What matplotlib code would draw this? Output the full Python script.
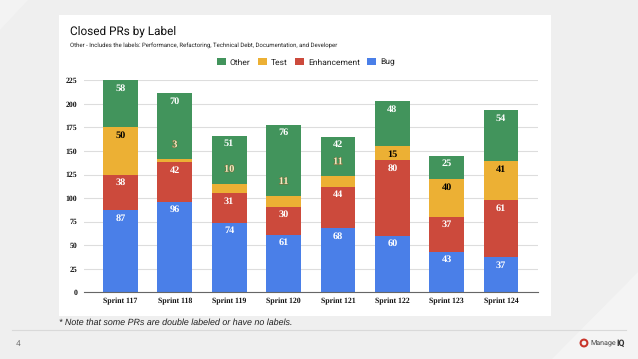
import matplotlib
matplotlib.use('Agg')
import matplotlib.pyplot as plt
import matplotlib.patheffects as pe
import numpy as np
from matplotlib.patches import Rectangle, Polygon, Circle

plt.rcParams['text.hinting'] = 'none'

W = 638
H = 359

sprints = ['Sprint 117', 'Sprint 118', 'Sprint 119', 'Sprint 120',
           'Sprint 121', 'Sprint 122', 'Sprint 123', 'Sprint 124']
bug = [87, 96, 74, 61, 68, 60, 43, 37]
enhancement = [38, 42, 31, 30, 44, 80, 37, 61]
test = [50, 3, 10, 11, 11, 15, 40, 41]
other = [58, 70, 51, 76, 42, 48, 25, 54]
yticks = [0, 25, 50, 75, 100, 125, 150, 175, 200, 225]

series = [('Bug', bug, '#4a7fe8', 'white'),
          ('Enhancement', enhancement, '#cc4a3c', 'white'),
          ('Test', test, '#ecb034', 'black'),
          ('Other', other, '#42945c', 'white')]

fig = plt.figure(figsize=(W / 100, H / 100), dpi=100, facecolor='#efefef')

# slide background, in pixel coordinates
bg = fig.add_axes([0, 0, 1, 1])
bg.set_xlim(0, W)
bg.set_ylim(H, 0)
bg.axis('off')
bg.add_patch(Polygon([[638, 272], [638, 359], [552, 359]], color='#f4f4f4', lw=0))
bg.add_patch(Polygon([[0, 0], [28, 0], [0, 30]], color='#f3f3f3', lw=0))
bg.add_patch(Rectangle((59, 15), 492, 301, color='white', lw=0))
bg.plot([12, 626], [329.5, 329.5], color='#d9d9d9', lw=0.8)
bg.text(69.5, 31, 'Closed PRs by Label', family='Roboto', fontsize=8.45,
        color='#111111', va='center')
bg.text(69.5, 44.7, 'Other - Includes the labels: Performance, Refactoring, Technical Debt, '
        'Documentation, and Developer', family='Roboto', fontsize=4.3,
        color='#222222', va='center')
bg.text(59, 322.2, '* Note that some PRs are double labeled or have no labels.',
        family='Liberation Sans', style='italic', fontsize=6.4, color='#222222', va='center')
bg.text(16, 343.5, '4', family='Roboto', fontsize=6, color='#777777', va='center')
bg.add_patch(Circle((584, 343), 3.4, fc='none', ec='#c8352b', lw=1.5))
bg.text(590.5, 345.5, 'Manage', family='Roboto', fontsize=5.1, color='#444444', va='baseline')
bg.text(616.5, 345.5, 'IQ', family='Roboto', fontsize=6.2, weight='bold', color='#333333', va='baseline')

# chart area
x0, x1, ytop, ybot = 83.5, 538, 80.3, 292.3
ax = fig.add_axes([x0 / W, 1 - ybot / H, (x1 - x0) / W, (ybot - ytop) / H])
ax.patch.set_alpha(0)
x = np.arange(len(sprints))
bottom = np.zeros(len(sprints))
for name, values, colour, textcol in series:
    ax.bar(x, values, 0.64, bottom=bottom, color=colour, label=name, zorder=3)
    tops = bottom + np.array(values)
    for xi, v, t in zip(x, values, tops):
        if v < 12:
            # small segments: label sits above the segment, on the green
            ann = ax.annotate(str(v), (xi, t), xytext=(0, 10.5), textcoords='offset points',
                              ha='center', va='center', family='Liberation Serif', weight='bold',
                              fontsize=7.4, color='#f3ecc4', zorder=5)
            ann.set_path_effects([pe.withStroke(linewidth=0.7, foreground='#6f6a35')])
        else:
            ax.annotate(str(v), (xi, min(t, 225)), xytext=(0, -5.8), textcoords='offset points',
                        ha='center', va='center', family='Liberation Serif', weight='bold',
                        fontsize=7.4, color=textcol, zorder=5)
    bottom = tops

ax.set_xlim(-0.68, 7.68)
ax.set_ylim(0, 225)
ax.set_yticks(yticks)
ax.set_xticks(x)
ax.set_xticklabels(sprints)
for lab in ax.get_xticklabels() + ax.get_yticklabels():
    lab.set_family('Liberation Serif')
    lab.set_weight('bold')
    lab.set_fontsize(5.6)
    lab.set_color('#111111')
ax.tick_params(length=0)
ax.tick_params(axis='x', pad=4)
ax.tick_params(axis='y', pad=4.5)
ax.grid(axis='y', color='#dddddd', lw=0.8, zorder=0)
for s in ['top', 'right', 'left']:
    ax.spines[s].set_visible(False)
ax.spines['bottom'].set_color('#666666')
ax.spines['bottom'].set_linewidth(0.8)
ax.spines['bottom'].set_zorder(4)

h, l = ax.get_legend_handles_labels()
leg = fig.legend(h[::-1], l[::-1], ncol=4, frameon=False, loc='center',
                 bbox_to_anchor=(306 / W, 1 - 62 / H),
                 prop={'family': 'Roboto', 'size': 6.1}, handlelength=1.0, handleheight=1.0,
                 handletextpad=0.5, columnspacing=0.9, labelcolor='#222222')

fig.savefig('out.png', dpi=100, facecolor=fig.get_facecolor())
